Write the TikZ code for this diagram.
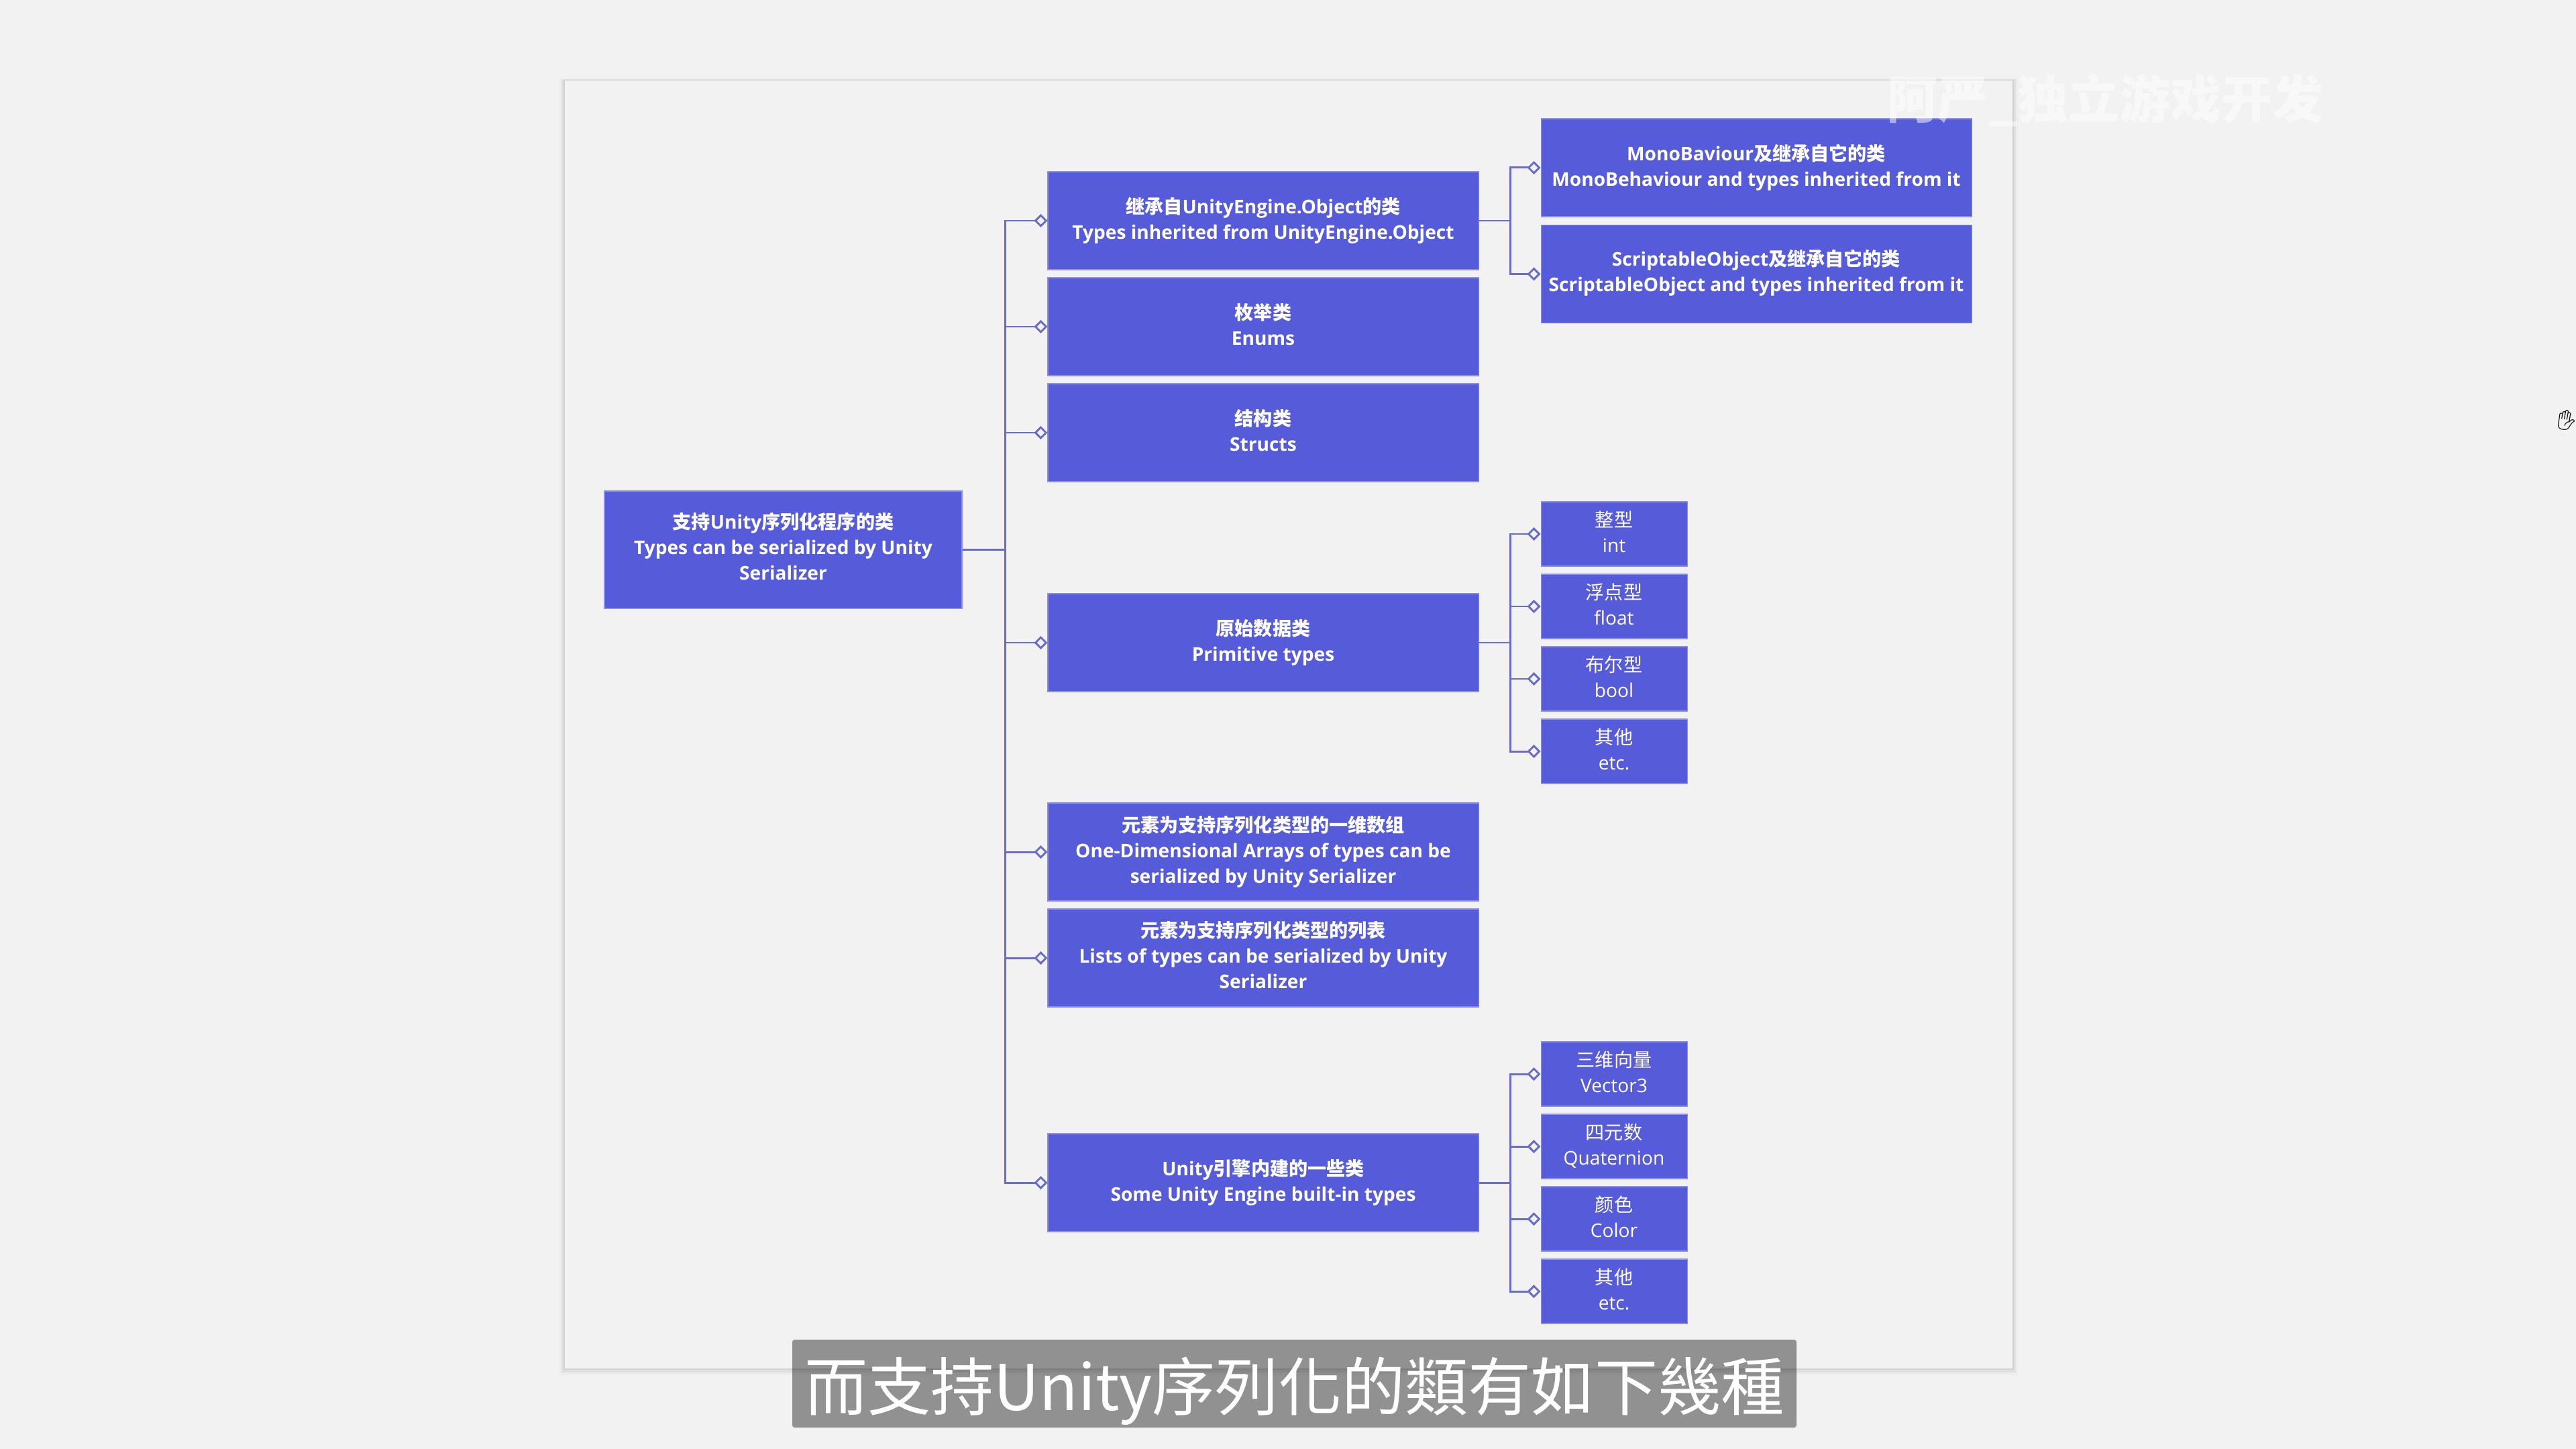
\documentclass[tikz,border=0pt]{standalone}
\usepackage{fontspec}
\setmainfont{Open Sans}
\newfontfamily\cjk{Noto Sans CJK SC}
\newfontfamily\cjktc{Noto Sans CJK TC}
\newfontfamily\handfont{Noto Emoji}
\usepackage{tikz}
\usetikzlibrary{arrows.meta}
\definecolor{boxblue}{HTML}{565CD9}
\definecolor{boxedge}{HTML}{8B8FE6}
\definecolor{linkblue}{HTML}{6A6DC4}
\definecolor{pagegray}{HTML}{F2F2F2}
\newcommand{\cn}[1]{{\cjk #1}}
\tikzstyle{box} = [draw=boxedge, line width=0.3pt, fill=boxblue, text=white, align=center, inner sep=0pt]
\tikzstyle{line} = [draw=linkblue, line width=0.85pt, -{Diamond[open,length=0.2cm,width=0.2cm]}]

\begin{document}
\begin{tikzpicture}[%
      rootbox/.style={box, minimum width=5.33cm, minimum height=1.75cm,
      font=\bfseries\fontsize{8}{10.8}\selectfont},
      bigbox/.style={box, minimum width=6.42cm, minimum height=1.46cm,
      font=\bfseries\fontsize{8}{10.8}\selectfont},
      smallbox/.style={box, minimum width=2.18cm, minimum height=0.96cm, text depth=0.6mm,
      font=\fontsize{8}{10.8}\selectfont}]
    %% Page and card
    \useasboundingbox [fill=pagegray] (0,0) rectangle (38.4,-21.6);
    \fill [black, opacity=0.02] (8.34,-1.17) rectangle (30.08,-20.50);
    \fill [black, opacity=0.05] (8.37,-1.18) rectangle (30.05,-20.46);
    \fill [black, opacity=0.07] (8.40,-1.19) rectangle (30.02,-20.42);
    \fill [pagegray] (8.42,-1.2) rectangle (30,-20.4);
    %% Root
    \node [rootbox, text depth=1mm] at (11.675,-8.195) (Root) {\cn{支持}Unity\cn{序列化程序的类}\\Types can be serialized by Unity\\Serializer};
    %% Second level
    \node [bigbox] at (18.83,-3.29) (Obj) {\cn{继承自}UnityEngine.Object\cn{的类}\\Types inherited from UnityEngine.Object};
    \node [bigbox, text depth=0.8mm] at (18.83,-4.87) (Enums) {\cn{枚举类}\\Enums};
    \node [bigbox, text depth=0.8mm] at (18.83,-6.45) (Structs) {\cn{结构类}\\Structs};
    \node [bigbox] at (18.83,-9.58) (Prim) {\cn{原始数据类}\\Primitive types};
    \node [bigbox] at (18.83,-12.70) (Arrays) {\cn{元素为支持序列化类型的一维数组}\\One-Dimensional Arrays of types can be\\serialized by Unity Serializer};
    \node [bigbox, text depth=1mm] at (18.83,-14.28) (Lists) {\cn{元素为支持序列化类型的列表}\\Lists of types can be serialized by Unity\\Serializer};
    \node [bigbox] at (18.83,-17.63) (Builtin) {Unity\cn{引擎内建的一些类}\\Some Unity Engine built-in types};
    %% Inherited
    \node [bigbox] at (26.18,-2.50) (Mono) {MonoBaviour\cn{及继承自它的类}\\MonoBehaviour and types inherited from it};
    \node [bigbox, text depth=1mm] at (26.18,-4.085) (Script) {ScriptableObject\cn{及继承自它的类}\\ScriptableObject and types inherited from it};
    %% Primitive
    \node [smallbox] at (24.06,-7.96) (Int) {\cn{整型}\\int};
    \node [smallbox] at (24.06,-9.04) (Float) {\cn{浮点型}\\float};
    \node [smallbox] at (24.06,-10.12) (Bool) {\cn{布尔型}\\bool};
    \node [smallbox] at (24.06,-11.20) (PrimEtc) {\cn{其他}\\etc.};
    %% Built-in
    \node [smallbox] at (24.06,-16.01) (Vector) {\cn{三维向量}\\Vector3};
    \node [smallbox] at (24.06,-17.09) (Quat) {\cn{四元数}\\Quaternion};
    \node [smallbox] at (24.06,-18.17) (Color) {\cn{颜色}\\Color};
    \node [smallbox] at (24.06,-19.25) (BuiltinEtc) {\cn{其他}\\etc.};
    %% Trunks
    \coordinate (RootTrunk) at (14.98,-8.195);
    \coordinate (ObjTrunk) at (22.51,-3.29);
    \coordinate (PrimTrunk) at (22.51,-9.58);
    \coordinate (BuiltinTrunk) at (22.51,-17.63);
    %%
    %% Root links
    \path [line] (Root.east) -- (RootTrunk) |- (Obj.west);
    \path [line] (Root.east) -- (RootTrunk) |- (Enums.west);
    \path [line] (Root.east) -- (RootTrunk) |- (Structs.west);
    \path [line] (Root.east) -- (RootTrunk) |- (Prim.west);
    \path [line] (Root.east) -- (RootTrunk) |- (Arrays.west);
    \path [line] (Root.east) -- (RootTrunk) |- (Lists.west);
    \path [line] (Root.east) -- (RootTrunk) |- (Builtin.west);
    %% Inherited links
    \path [line] (Obj.east) -- (ObjTrunk) |- (Mono.west);
    \path [line] (Obj.east) -- (ObjTrunk) |- (Script.west);
    %% Primitive links
    \path [line] (Prim.east) -- (PrimTrunk) |- (Int.west);
    \path [line] (Prim.east) -- (PrimTrunk) |- (Float.west);
    \path [line] (Prim.east) -- (PrimTrunk) |- (Bool.west);
    \path [line] (Prim.east) -- (PrimTrunk) |- (PrimEtc.west);
    %% Built-in links
    \path [line] (Builtin.east) -- (BuiltinTrunk) |- (Vector.west);
    \path [line] (Builtin.east) -- (BuiltinTrunk) |- (Quat.west);
    \path [line] (Builtin.east) -- (BuiltinTrunk) |- (Color.west);
    \path [line] (Builtin.east) -- (BuiltinTrunk) |- (BuiltinEtc.west);
    %% Video overlays
    \node [fill=black, fill opacity=0.4, text opacity=1, text=white, inner sep=0pt,
      minimum width=14.97cm, minimum height=1.31cm, rounded corners=1pt,
      font=\fontsize{26.8}{30}\selectfont] at (19.295,-20.625) (Caption) {\raisebox{-0.395cm}[0pt][0pt]{\cjktc 而支持Unity序列化的類有如下幾種}};
    \node [text=white, text opacity=0.5, inner sep=0pt, font=\cjk\bfseries\fontsize{21.6}{24}\selectfont] at (31.38,-1.5) (Mark) {阿严\_独立游戏开发};
    \node [text=black, rotate=-10, inner sep=0pt, font=\handfont\fontsize{8.5}{9}\selectfont] at (38.26,-6.27) (Hand) {✋};
  \end{tikzpicture}
\end{document}
